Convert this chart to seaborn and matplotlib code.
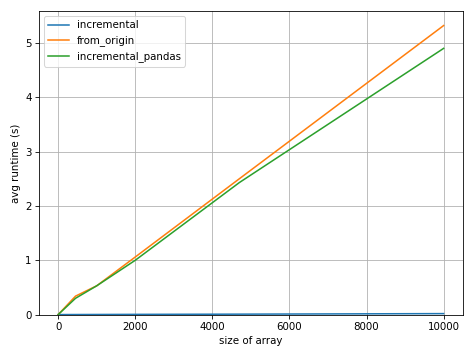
import pandas as pd
import matplotlib
matplotlib.use("Agg")
import matplotlib.pyplot as plt
import seaborn as sns

# array sizes and averaged runtimes
sizes = [0, 450, 1000, 2000, 4700, 10000]
incremental = [0.0, 0.001, 0.002, 0.004, 0.008, 0.018]
from_origin = [0.0, 0.34, 0.53, 1.06, 2.50, 5.32]
incremental_pandas = [0.0, 0.30, 0.53, 1.00, 2.43, 4.90]

df = pd.DataFrame({
    'size': sizes,
    'incremental': incremental,
    'from_origin': from_origin,
    'incremental_pandas': incremental_pandas,
})

plt.figure(figsize=(474 / 74, 357 / 74), dpi=74)

sns.lineplot(x='size', y='incremental', data=df, label='incremental', color='#1f77b4')
sns.lineplot(x='size', y='from_origin', data=df, label='from_origin', color='#ff7f0e')
sns.lineplot(x='size', y='incremental_pandas', data=df, label='incremental_pandas', color='#2ca02c')

plt.ylim(bottom=0)
plt.xlabel('size of array')
plt.ylabel('avg runtime (s)')
plt.legend(loc='upper left')
plt.grid(True)
plt.tight_layout()
plt.savefig("out.png", dpi=74)
